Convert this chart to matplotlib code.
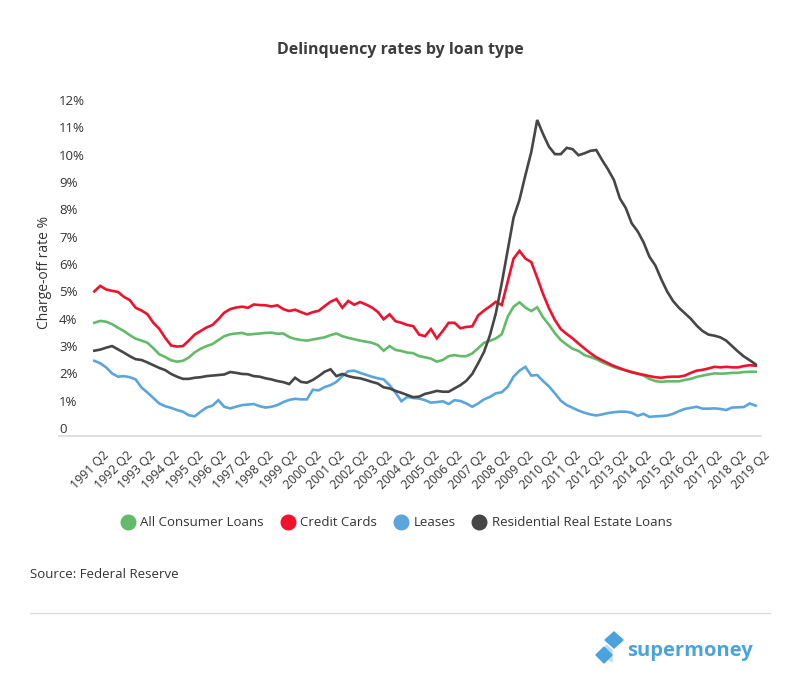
import matplotlib
matplotlib.use("Agg")
import matplotlib.pyplot as plt
from matplotlib.lines import Line2D
from matplotlib.patches import Polygon
from matplotlib.transforms import ScaledTranslation

plt.rcParams['font.family'] = ['Open Sans', 'DejaVu Sans']

# quarterly charge-off rates, 1991 Q2 .. 2019 Q2
consumer = [
    3.85, 3.92, 3.89, 3.80, 3.67, 3.55, 3.40, 3.27, 3.20, 3.12,
    2.92, 2.70, 2.60, 2.48, 2.43, 2.46, 2.58, 2.77, 2.90, 3.00,
    3.07, 3.22, 3.36, 3.43, 3.46, 3.48, 3.42, 3.44, 3.46, 3.48,
    3.49, 3.45, 3.46, 3.33, 3.26, 3.22, 3.20, 3.24, 3.28, 3.32,
    3.40, 3.46, 3.36, 3.30, 3.25, 3.20, 3.16, 3.12, 3.04, 2.83,
    3.00, 2.86, 2.82, 2.76, 2.74, 2.63, 2.59, 2.54, 2.43, 2.49,
    2.63, 2.67, 2.63, 2.63, 2.73, 2.92, 3.12, 3.19, 3.28, 3.43,
    4.07, 4.44, 4.60, 4.41, 4.28, 4.42, 4.05, 3.78, 3.47, 3.22,
    3.05, 2.90, 2.82, 2.67, 2.60, 2.52, 2.41, 2.32, 2.23, 2.16,
    2.11, 2.06, 2.00, 1.92, 1.80, 1.72, 1.69, 1.71, 1.71, 1.71,
    1.76, 1.80, 1.87, 1.92, 1.96, 2.00, 1.99, 2.00, 2.02, 2.02,
    2.05, 2.06, 2.06,
]

credit_cards = [
    5.00, 5.20, 5.07, 5.02, 4.98, 4.80, 4.68, 4.40, 4.30, 4.16,
    3.85, 3.63, 3.30, 3.02, 2.98, 3.00, 3.20, 3.42, 3.55, 3.68,
    3.77, 3.98, 4.22, 4.35, 4.41, 4.44, 4.40, 4.52, 4.50, 4.49,
    4.45, 4.49, 4.35, 4.28, 4.33, 4.24, 4.16, 4.24, 4.29, 4.46,
    4.62, 4.72, 4.40, 4.65, 4.51, 4.61, 4.52, 4.41, 4.25, 3.98,
    4.16, 3.91, 3.85, 3.77, 3.73, 3.42, 3.36, 3.62, 3.28, 3.55,
    3.85, 3.85, 3.65, 3.70, 3.72, 4.12, 4.30, 4.45, 4.62, 4.50,
    5.35, 6.20, 6.48, 6.20, 6.07, 5.50, 4.90, 4.38, 3.95, 3.62,
    3.44, 3.28, 3.09, 2.91, 2.74, 2.59, 2.48, 2.37, 2.27, 2.19,
    2.11, 2.04, 1.99, 1.95, 1.90, 1.86, 1.84, 1.87, 1.88, 1.88,
    1.92, 2.02, 2.10, 2.13, 2.18, 2.24, 2.22, 2.24, 2.22, 2.22,
    2.27, 2.30, 2.28,
]

leases = [
    2.46, 2.37, 2.22, 2.00, 1.88, 1.90, 1.86, 1.78, 1.48, 1.30,
    1.10, 0.90, 0.80, 0.74, 0.66, 0.60, 0.47, 0.43, 0.60, 0.75,
    0.82, 1.02, 0.78, 0.72, 0.78, 0.84, 0.86, 0.88, 0.80, 0.75,
    0.78, 0.84, 0.95, 1.03, 1.07, 1.05, 1.05, 1.40, 1.38, 1.50,
    1.57, 1.69, 1.90, 2.08, 2.10, 2.02, 1.95, 1.88, 1.82, 1.78,
    1.57, 1.30, 0.98, 1.14, 1.10, 1.08, 1.02, 0.93, 0.95, 0.98,
    0.88, 1.02, 0.99, 0.90, 0.78, 0.90, 1.05, 1.14, 1.27, 1.31,
    1.51, 1.88, 2.10, 2.24, 1.92, 1.94, 1.72, 1.52, 1.27, 1.00,
    0.84, 0.74, 0.64, 0.56, 0.50, 0.46, 0.50, 0.55, 0.58, 0.60,
    0.60, 0.56, 0.45, 0.52, 0.41, 0.43, 0.44, 0.46, 0.52, 0.62,
    0.70, 0.74, 0.78, 0.71, 0.71, 0.72, 0.70, 0.66, 0.75, 0.76,
    0.77, 0.90, 0.82,
]

residential = [
    2.83, 2.87, 2.94, 3.00, 2.88, 2.76, 2.63, 2.52, 2.49, 2.40,
    2.30, 2.20, 2.12, 1.98, 1.88, 1.80, 1.80, 1.84, 1.86, 1.90,
    1.92, 1.94, 1.96, 2.05, 2.02, 1.98, 1.97, 1.90, 1.88, 1.82,
    1.78, 1.72, 1.68, 1.61, 1.84, 1.69, 1.66, 1.76, 1.90, 2.06,
    2.15, 1.90, 1.98, 1.90, 1.85, 1.82, 1.76, 1.69, 1.63, 1.49,
    1.45, 1.36, 1.29, 1.21, 1.13, 1.15, 1.25, 1.30, 1.36, 1.33,
    1.33, 1.45, 1.57, 1.73, 1.98, 2.37, 2.79, 3.40, 4.20, 5.30,
    6.50, 7.70, 8.35, 9.25, 10.10, 11.27, 10.75, 10.29, 10.02, 10.02,
    10.25, 10.20, 9.98, 10.05, 10.14, 10.17, 9.80, 9.46, 9.07, 8.40,
    8.05, 7.49, 7.20, 6.80, 6.27, 5.95, 5.45, 5.00, 4.65, 4.40,
    4.20, 4.00, 3.75, 3.55, 3.42, 3.38, 3.32, 3.20, 3.00, 2.80,
    2.62, 2.48, 2.33,
]

years = list(range(1991, 2020))
year_labels = [f"{y} Q2" for y in years]
yticks = [0, 1, 2, 3, 4, 5, 6, 7, 8, 9, 10, 11, 12]
ytick_labels = ["0"] + [f"{v}%" for v in yticks[1:]]

series = [
    ("All Consumer Loans", consumer, "#63bb6a"),
    ("Credit Cards", credit_cards, "#f2112d"),
    ("Leases", leases, "#5aa5dc"),
    ("Residential Real Estate Loans", residential, "#464646"),
]

W, H = 800, 684
fig = plt.figure(figsize=(W / 100, H / 100), dpi=100)
fig.patch.set_facecolor("white")

ax = fig.add_axes([59 / W, (H - 436) / H, 702 / W, 344.2 / H])
x = list(range(len(consumer)))
for name, vals, col in series:
    ax.plot(x, vals, color=col, linewidth=1.9, solid_joinstyle="miter")

ax.set_xlim(-5.98, 112.9)
ax.set_ylim(-0.29, 12.3)

for side in ["top", "right", "left"]:
    ax.spines[side].set_visible(False)
ax.spines["bottom"].set_color("#d9d9d9")
ax.spines["bottom"].set_linewidth(1.2)

ax.set_yticks(yticks)
ax.set_yticklabels(ytick_labels, fontsize=9.5, color="#333333")
ax.tick_params(axis="y", length=0, pad=0)
for lbl in ax.get_yticklabels():
    lbl.set_horizontalalignment("left")

ax.set_xticks(x[::4])
ax.set_xticklabels(year_labels, fontsize=8.8, color="#333333",
                   rotation=45, ha="right", va="top", rotation_mode="anchor")
ax.tick_params(axis="x", length=0, pad=9)
offset = ScaledTranslation(8 / 100, 0, fig.dpi_scale_trans)
for lbl in ax.get_xticklabels():
    lbl.set_transform(lbl.get_transform() + offset)

fig.text(0.5, 1 - 50 / H, "Delinquency rates by loan type", ha="center", va="center",
         fontsize=11.5, fontweight="bold", color="#3d3d3d")
fig.text(45 / W, 1 - 272 / H, "Charge-off rate %", rotation=90, ha="center", va="center",
         fontsize=10, color="#333333")

handles = [Line2D([], [], marker="o", linestyle="none", markersize=10.5,
                  markerfacecolor=col, markeredgecolor=col) for _, _, col in series]
fig.legend(handles, [s[0] for s in series], loc="center", ncol=4,
           bbox_to_anchor=(396 / W, 1 - 523 / H), frameon=False, fontsize=9.5,
           handletextpad=0.35, columnspacing=1.2, handlelength=1.2,
           labelcolor="#333333")

fig.text(30 / W, 1 - 574 / H, "Source: Federal Reserve", ha="left", va="center",
         fontsize=9.5, color="#333333")
fig.add_artist(Line2D([30 / W, 770 / W], [1 - 613 / H, 1 - 613 / H],
                      color="#dcdcdc", linewidth=1.0))

# logo
def px(pts):
    return [(a / W, 1 - b / H) for a, b in pts]

fig.add_artist(Polygon(px([(606, 645), (612, 650), (612, 662), (606, 657)]),
                       closed=True, color="#b9dcf3", transform=fig.transFigure))
fig.add_artist(Polygon(px([(614, 632), (623, 640), (614, 648), (605, 640)]),
                       closed=True, color="#4aa3df", transform=fig.transFigure))
fig.add_artist(Polygon(px([(604, 647), (612, 655), (604, 663), (596, 655)]),
                       closed=True, color="#4aa3df", transform=fig.transFigure))
fig.text(627 / W, 1 - 651 / H, "supermoney", ha="left", va="center",
         fontsize=14.5, fontweight="bold", color="#4aa3df")

fig.savefig("out.png", dpi=100, facecolor="white")
